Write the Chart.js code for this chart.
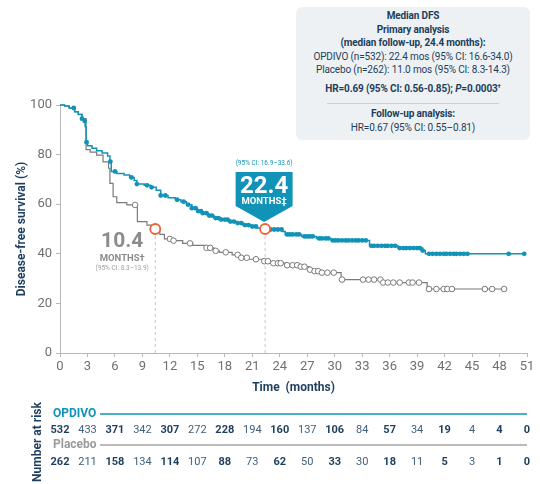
<!DOCTYPE html>
<html>
<head>
<meta charset="utf-8">
<script src="https://cdn.jsdelivr.net/npm/chart.js@4.4.1/dist/chart.umd.min.js"></script>
<style>
body{margin:0;background:#fff;font-family:Roboto,sans-serif}
#wrap{position:relative;width:540px;height:484px;overflow:hidden}
canvas{position:absolute;left:0;top:0}
.box{position:absolute;left:296px;top:7px;width:234px;height:133px;background:#eef1f3;border-radius:6px;
  color:#1d3e5d;font-size:10px;letter-spacing:-0.15px;text-align:center;line-height:13.5px;padding-top:2.25px;box-sizing:border-box}
.box b{font-weight:700}
.box .hr{margin-top:5.5px}
.box .sep{margin:7px 31px 0 31px;height:1px;background:#c8cfd5}
.box .fu{margin-top:3.5px}
.box sup{font-size:6px;line-height:0;vertical-align:4px}
</style>
</head>
<body>
<div id="wrap">
<canvas id="myChart" width="540" height="484"></canvas>
<div class="box">
  <div><b>Median DFS</b></div>
  <div><b>Primary analysis</b></div>
  <div><b>(median follow-up, 24.4 months):</b></div>
  <div>OPDIVO (n=532): 22.4 mos (95% CI: 16.6-34.0)</div>
  <div>Placebo (n=262): 11.0 mos (95% CI: 8.3-14.3)</div>
  <div class="hr"><b>HR=0.69 (95% CI: 0.56-0.85); <i>P</i>=0.0003<sup>†</sup></b></div>
  <div class="sep"></div>
  <div class="fu"><b>Follow-up analysis:</b></div>
  <div>HR=0.67 (95% CI: 0.55–0.81)</div>
</div>
</div>
<script>
// step curves: [month, % disease-free after the step]
const opdivoTimes = [0,0.5,1.0,1.6,2.0,2.4,2.6,2.75,2.85,3.0,3.5,4.0,4.6,5.2,5.45,5.6,6.2,7.0,7.6,8.1,8.4,9.2,9.9,10.5,11.0,11.8,12.6,13.2,13.8,14.4,15.0,15.5,16.2,16.8,17.6,18.5,19.3,20.0,20.8,21.5,22.2,24.3,24.6,26.4,28.0,29.6,33.8,36.9,39.6,39.9,50.7]
const opdivoSurv  = [100,99.6,98.8,97.3,96.2,94.5,93.5,91.2,85.0,83.6,82.6,81.6,80.6,79.4,77.2,73.2,72.4,71.8,70.8,69.6,68.1,67.6,66.8,65.6,63.5,62.6,61.8,61.0,59.8,58.4,57.2,56.4,55.4,54.4,53.8,53.0,52.4,51.6,51.0,50.4,49.8,49.0,47.8,47.0,46.2,45.4,43.2,42.3,41.3,40.0,40.0]

const placeboTimes = [0,0.5,1.0,1.6,2.0,2.4,2.85,3.3,4.0,4.7,5.3,5.45,5.8,6.2,7.3,8.45,9.5,10.4,10.9,11.4,12.2,13.4,14.5,15.8,16.8,17.4,18.8,19.7,20.5,22.2,22.8,24.6,26.0,27.2,27.8,28.5,30.7,35.2,40.1,48.5]
const placeboSurv  = [100,99.6,98.8,97.3,96.2,94.5,82.0,81.0,79.8,77.1,74.5,68.4,63.0,60.6,59.7,53.0,51.6,50.3,47.8,46.0,45.3,44.2,43.4,42.4,41.2,40.6,39.6,38.4,37.8,37.0,36.2,35.4,34.8,33.6,33.0,32.4,29.6,28.4,25.8,25.8]

// censoring marks (months)
const opdivoCensor = [1.5,2.4,2.7,2.9,5.5,6.0,7.8,8.4,9.5,10.0,11.0,11.5,12.8,13.5,14.0,14.4,14.8,15.1,15.4,15.6,16.0,16.3,16.6,17.0,17.3,17.6,18.0,18.3,18.6,19.0,19.4,19.8,20.2,20.6,21.0,21.4,22.6,23.0,23.4,23.8,24.2,24.8,25.1,25.4,25.8,26.1,26.7,27.0,27.3,27.6,28.3,28.6,29.0,29.3,29.8,30.1,30.4,30.8,31.2,31.5,31.9,32.3,32.6,33.0,33.4,34.0,34.3,34.7,35.1,35.5,35.8,36.2,36.6,37.1,37.5,37.8,38.2,38.6,39.0,39.3,39.6,40.3,40.7,41.1,41.5,41.9,42.2,42.6,43.0,43.3,43.7,44.1,44.5,49.0,50.7]
const placeboCensor = [8.2,12.0,12.4,14.2,16.0,16.4,17.0,18.1,19.4,19.8,20.4,21.4,22.3,22.7,23.3,23.8,24.1,24.8,25.4,25.9,26.3,26.7,27.3,27.8,28.2,28.6,29.2,29.9,30.8,33.1,33.7,34.3,35.0,35.3,35.8,36.4,37.1,38.1,38.5,39.2,40.3,41.1,41.9,42.3,42.8,46.4,47.2,48.5]

const medianOpdivo = 22.4
const medianPlacebo = 10.4

const riskMonths  = [0,3,6,9,12,15,18,21,24,27,30,33,36,39,42,45,48,51]
const riskOpdivo  = [532,433,371,342,307,272,228,194,160,137,106,84,57,34,19,4,4,0]
const riskPlacebo = [262,211,158,134,114,107,88,73,62,50,33,30,18,11,5,3,1,0]

const TEAL = '#1193b7'
const NAVY = '#1d3e5d'
const GREY = '#7a7a7a'
const ORANGE = '#ea6435'

function survAt(times, surv, t){
  let v = surv[0]
  for (let i = 0; i < times.length; i++) { if (times[i] <= t) v = surv[i] }
  return v
}
const pts = (ts, ss) => ts.map((t, i) => ({x: t, y: ss[i]}))
const cens = (c, ts, ss) => c.map(t => ({x: t, y: survAt(ts, ss, t)}))

Chart.defaults.font.family = 'Roboto, sans-serif'

const annot = {
  id: 'annot',
  afterDatasetsDraw(chart){
    const {ctx, scales: {x, y}} = chart
    ctx.save()
    ctx.textAlign = 'center'
    ctx.textBaseline = 'middle'

    // OPDIVO callout
    const cx = x.getPixelForValue(medianOpdivo) - 1
    const tip = y.getPixelForValue(50) - 7
    ctx.fillStyle = TEAL
    ctx.beginPath()
    ctx.moveTo(cx - 28.5, tip - 50)
    ctx.lineTo(cx + 28.5, tip - 50)
    ctx.lineTo(cx + 28.5, tip - 16)
    ctx.lineTo(cx, tip)
    ctx.lineTo(cx - 28.5, tip - 16)
    ctx.closePath()
    ctx.fill()
    ctx.fillStyle = '#fff'
    ctx.font = 'bold 24px Roboto'
    ctx.fillText('22.4', cx, tip - 35)
    ctx.font = 'bold 9.5px Roboto'
    ctx.fillText('MONTHS‡', cx, tip - 20)
    ctx.fillStyle = TEAL
    ctx.font = '6.5px Roboto'
    ctx.fillText('(95% CI: 16.9–33.6)', cx, tip - 59)

    // placebo label
    const px = x.getPixelForValue(medianPlacebo) - 33
    const py = y.getPixelForValue(50)
    ctx.fillStyle = '#8c8c8c'
    ctx.font = 'bold 21px Roboto'
    ctx.fillText('10.4', px, py + 13)
    ctx.font = 'bold 9.5px Roboto'
    ctx.fillText('MONTHS†', px, py + 29.5)
    ctx.fillStyle = '#a0a0a0'
    ctx.font = '6.5px Roboto'
    ctx.fillText('(95% CI: 8.3–13.9)', px, py + 39)

    // axis titles
    ctx.fillStyle = NAVY
    ctx.font = 'bold 12px Roboto'
    ctx.fillText('Time  (months)', (x.left + x.right) / 2, 388)
    ctx.save()
    ctx.translate(22, 229)
    ctx.rotate(-Math.PI / 2)
    ctx.fillText('Disease-free survival (%)', 0, 0)
    ctx.restore()
    ctx.save()
    ctx.translate(38, 442)
    ctx.rotate(-Math.PI / 2)
    ctx.fillText('Number at risk', 0, 0)
    ctx.restore()

    // number at risk table
    ctx.textAlign = 'left'
    ctx.fillStyle = TEAL
    ctx.fillText('OPDIVO', 53, 414)
    ctx.fillStyle = '#9b9b9b'
    ctx.fillText('Placebo', 53, 445)
    ctx.lineWidth = 1.5
    ctx.strokeStyle = TEAL
    ctx.beginPath(); ctx.moveTo(100, 414); ctx.lineTo(x.right, 414); ctx.stroke()
    ctx.strokeStyle = '#a5a5a5'
    ctx.beginPath(); ctx.moveTo(100, 445); ctx.lineTo(x.right, 445); ctx.stroke()
    ctx.textAlign = 'center'
    riskMonths.forEach((m, i) => {
      const px2 = x.getPixelForValue(m)
      const bold = i % 2 === 0 || i === riskMonths.length - 1
      ctx.font = (bold ? 'bold ' : '') + '11px Roboto'
      ctx.fillStyle = bold ? NAVY : '#41607c'
      ctx.fillText(String(riskOpdivo[i]), px2, 430)
      ctx.fillText(String(riskPlacebo[i]), px2, 462)
    })
    ctx.restore()
  }
}

const data = {
  datasets: [
    {
      label: 'median',
      data: [{x: medianPlacebo, y: 50}, {x: medianOpdivo, y: 50}],
      showLine: false,
      pointRadius: 5,
      pointBorderWidth: 1.8,
      pointBorderColor: ORANGE,
      pointBackgroundColor: '#fff'
    },
    {
      label: 'OPDIVO censored',
      data: cens(opdivoCensor, opdivoTimes, opdivoSurv),
      showLine: false,
      pointRadius: 2.4,
      pointBorderWidth: 0,
      pointBackgroundColor: TEAL
    },
    {
      label: 'OPDIVO',
      data: pts(opdivoTimes, opdivoSurv),
      stepped: true,
      borderColor: TEAL,
      borderWidth: 1.5,
      pointRadius: 0
    },
    {
      label: 'Placebo censored',
      data: cens(placeboCensor, placeboTimes, placeboSurv),
      showLine: false,
      pointRadius: 2.8,
      pointBorderWidth: 1,
      pointBorderColor: GREY,
      pointBackgroundColor: '#fff'
    },
    {
      label: 'Placebo',
      data: pts(placeboTimes, placeboSurv),
      stepped: true,
      borderColor: GREY,
      borderWidth: 1.2,
      pointRadius: 0
    },
    {
      label: 'drop placebo',
      data: [{x: medianPlacebo, y: 0}, {x: medianPlacebo, y: 50}],
      borderColor: '#c8c8c8',
      borderWidth: 1,
      borderDash: [3, 3],
      pointRadius: 0
    },
    {
      label: 'drop opdivo',
      data: [{x: medianOpdivo, y: 0}, {x: medianOpdivo, y: 50}],
      borderColor: '#c8c8c8',
      borderWidth: 1,
      borderDash: [3, 3],
      pointRadius: 0
    }
  ]
}

const config = {
  type: 'line',
  data: data,
  options: {
    responsive: false,
    animation: false,
    clip: false,
    layout: {padding: {top: 105, right: 13, left: 0, bottom: 0}},
    plugins: {legend: {display: false}, tooltip: {enabled: false}},
    scales: {
      x: {
        type: 'linear', min: 0, max: 51,
        ticks: {stepSize: 3, autoSkip: false, maxRotation: 0, color: '#707070', font: {size: 13}, padding: 2},
        grid: {drawOnChartArea: false, tickLength: 4, color: '#b8b8b8'},
        border: {color: '#b8b8b8'},
        afterFit(s){ s.height = 131 }
      },
      y: {
        min: 0, max: 100,
        ticks: {stepSize: 20, color: '#707070', font: {size: 13}, padding: 4},
        grid: {drawOnChartArea: false, tickLength: 4, color: '#b8b8b8'},
        border: {color: '#b8b8b8'},
        afterFit(s){ s.width = 60 }
      }
    }
  },
  plugins: [annot]
}

const myChart = new Chart(document.getElementById('myChart'), config)
</script>
</body>
</html>
